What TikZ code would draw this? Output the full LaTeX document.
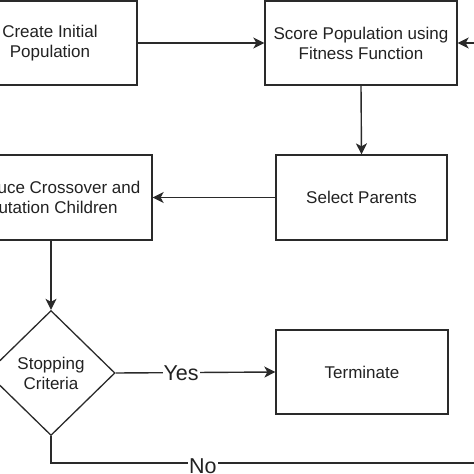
\documentclass[tikz,border=0pt]{standalone}
\usepackage{fontspec}
\setmainfont{Liberation Sans}
\usetikzlibrary{shapes.geometric,arrows.meta}
\definecolor{ink}{HTML}{222222}
\definecolor{edge}{HTML}{2A2A2A}
\tikzset{
  boxnode/.style={draw=edge, line width=1.3pt, fill=white, inner sep=0pt, align=center,
    text=ink, font=\fontsize{17}{20}\selectfont},
  decision/.style={boxnode, shape=diamond, minimum width=128pt, minimum height=125pt},
  flow/.style={draw=edge, line width=1.4pt, -{Stealth[length=11pt,width=11pt,inset=3pt]}},
  plainflow/.style={draw=edge, line width=1.4pt},
  lbl/.style={fill=white, inner sep=1pt, text=ink, font=\fontsize{21.5}{23}\selectfont}
}
\begin{document}
\begin{tikzpicture}[x=1pt,y=-1pt]
\useasboundingbox (0,0) rectangle (474,474);
\clip (0,0) rectangle (474,474);
\node[boxnode, minimum width=174pt, minimum height=84pt] (create) at (50,43) {Create Initial\\Population};
\node[boxnode, minimum width=192pt, minimum height=84pt] (score) at (361,43) {Score Population using\\Fitness Function};
\node[boxnode, minimum width=171pt, minimum height=85pt] (select) at (361.5,197.5) {Select Parents};
\node[boxnode, minimum width=202pt, minimum height=85pt] (cross) at (51,197.5) {Produce Crossover and\\Mutation Children};
\node[decision] (stop) at (51,373) {Stopping\\Criteria};
\node[boxnode, minimum width=172pt, minimum height=84pt] (term) at (362,372) {Terminate};
\coordinate (loopin) at (480,43);
\coordinate (noend) at (480,463);
\draw[flow] (create.east) -- (score.west);
\draw[flow] (loopin) -- (score.east);
\draw[flow] (score.south) -- (select.north);
\draw[flow] (select.west) -- (cross.east);
\draw[flow] (cross.south) -- (stop.north);
\draw[flow] (stop.east) -- node[lbl, pos=0.41, yshift=-1pt] {Yes} (term.west);
\draw[plainflow] (stop.south) |- node[lbl, pos=0.677, yshift=-3pt] {No} (noend);
\end{tikzpicture}
\end{document}
